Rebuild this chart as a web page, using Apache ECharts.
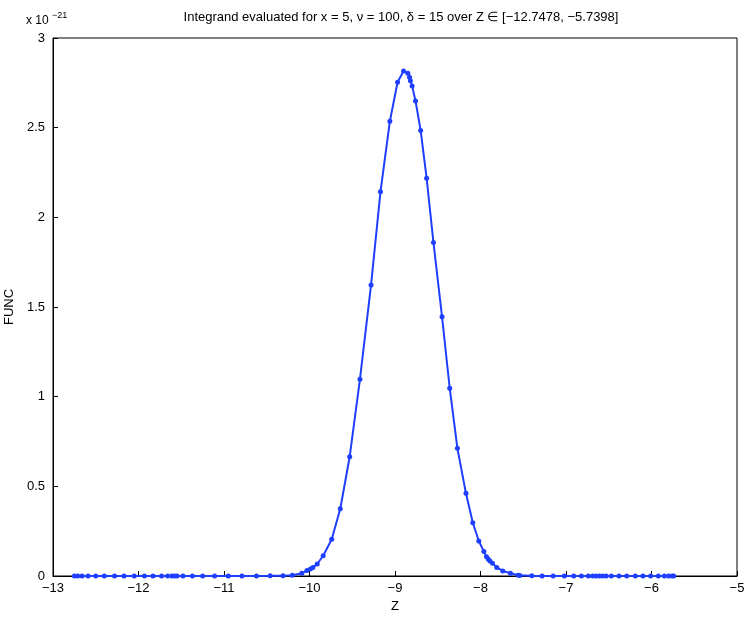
<!DOCTYPE html>
<html>
<head>
<meta charset="UTF-8">
<script src="https://cdn.jsdelivr.net/npm/echarts@6/dist/echarts.min.js"></script>
<style>body{margin:0;background:#fff}#Chart1{width:747px;height:620px}</style>
</head>
<body>
<div id="Chart1"></div>
<script>
// Z positions and integrand values (units of 1e-21)
let zValues = [-12.75,-12.71,-12.66,-12.59,-12.50,-12.40,-12.28,-12.17,-12.05,-11.93,-11.83,-11.73,-11.66,-11.61,-11.58,-11.55,-11.48,-11.37,-11.25,-11.11,-10.95,-10.79,-10.62,-10.46,-10.31,-10.20,-10.09,-10.03,-9.99,-9.96,-9.91,-9.84,-9.74,-9.64,-9.53,-9.41,-9.28,-9.17,-9.06,-8.97,-8.90,-8.85,-8.83,-8.82,-8.80,-8.76,-8.70,-8.63,-8.55,-8.45,-8.36,-8.27,-8.17,-8.09,-8.02,-7.96,-7.93,-7.91,-7.89,-7.86,-7.81,-7.74,-7.65,-7.56,-7.54,-7.40,-7.28,-7.15,-7.02,-6.91,-6.82,-6.74,-6.69,-6.65,-6.61,-6.57,-6.53,-6.47,-6.38,-6.29,-6.19,-6.10,-6.01,-5.92,-5.85,-5.80,-5.76,-5.74];
let funcValues = [0,0,0,0,0,0,0,0,0,0,0,0,0,0,0,0,0,0,0,0,0,0.0003,0.0006,0.001,0.002,0.004,0.015,0.03,0.039,0.048,0.067,0.113,0.205,0.375,0.665,1.097,1.623,2.142,2.536,2.753,2.816,2.803,2.781,2.762,2.733,2.649,2.484,2.218,1.859,1.446,1.047,0.712,0.461,0.297,0.195,0.136,0.108,0.095,0.084,0.071,0.048,0.028,0.015,0.004,0.003,0.001,0.0005,0,0,0,0,0,0,0,0,0,0,0,0,0,0,0,0,0,0,0,0,0];
let xTicks = [-13,-12,-11,-10,-9,-8,-7,-6,-5];

let data = zValues.map((z, i) => [z, funcValues[i]]);
let myChart1 = echarts.init(document.getElementById('Chart1'));
let font = 'Liberation Sans, Arial, sans-serif';
let option = {
    backgroundColor: '#fff',
    animation: false,
    title: {
        text: 'Integrand evaluated for x = 5, \u03bd = 100, \u03b4 = 15 over Z \u2208 [\u221212.7478, \u22125.7398]',
        left: 396, top: 6, textAlign: 'center',
        textStyle: {fontFamily: font, fontSize: 13, fontWeight: 'normal', color: '#000'}
    },
    graphic: [
        {type: 'text', left: 26, top: 15, style: {text: 'x 10', font: '12px ' + font, fill: '#000'}},
        {type: 'text', left: 52, top: 11, style: {text: '\u221221', font: '9px ' + font, fill: '#000'}}
    ],
    grid: {left: 53, right: 10, top: 38, bottom: 44, containLabel: false, outerBoundsMode: 'none',
        show: true, borderColor: '#000', borderWidth: 1},
    xAxis: {
        type: 'value', min: -13, max: -5, interval: 1,
        name: 'Z', nameLocation: 'middle', nameGap: 22,
        nameTextStyle: {fontFamily: font, fontSize: 13, color: '#000'},
        axisLine: {onZero: false, lineStyle: {color: '#000'}},
        axisTick: {inside: true, length: 5, lineStyle: {color: '#000'}},
        axisLabel: {fontFamily: font, fontSize: 13, color: '#000', margin: 6,
            formatter: v => String(v).replace('-', '\u2212')},
        splitLine: {show: false}
    },
    yAxis: {
        type: 'value', min: 0, max: 3, interval: 0.5,
        name: 'FUNC', nameLocation: 'middle', nameGap: 32,
        nameTextStyle: {fontFamily: font, fontSize: 13, color: '#000'},
        axisLine: {lineStyle: {color: '#000'}},
        axisTick: {inside: true, length: 5, lineStyle: {color: '#000'}},
        axisLabel: {fontFamily: font, fontSize: 13, color: '#000', margin: 8},
        splitLine: {show: false}
    },
    series: [{
        type: 'line', data: data, smooth: false,
        symbol: 'circle', symbolSize: 5,
        lineStyle: {color: '#1f3fff', width: 2},
        itemStyle: {color: '#1f3fff'}
    }]
};
myChart1.setOption(option);
</script>
</body>
</html>
